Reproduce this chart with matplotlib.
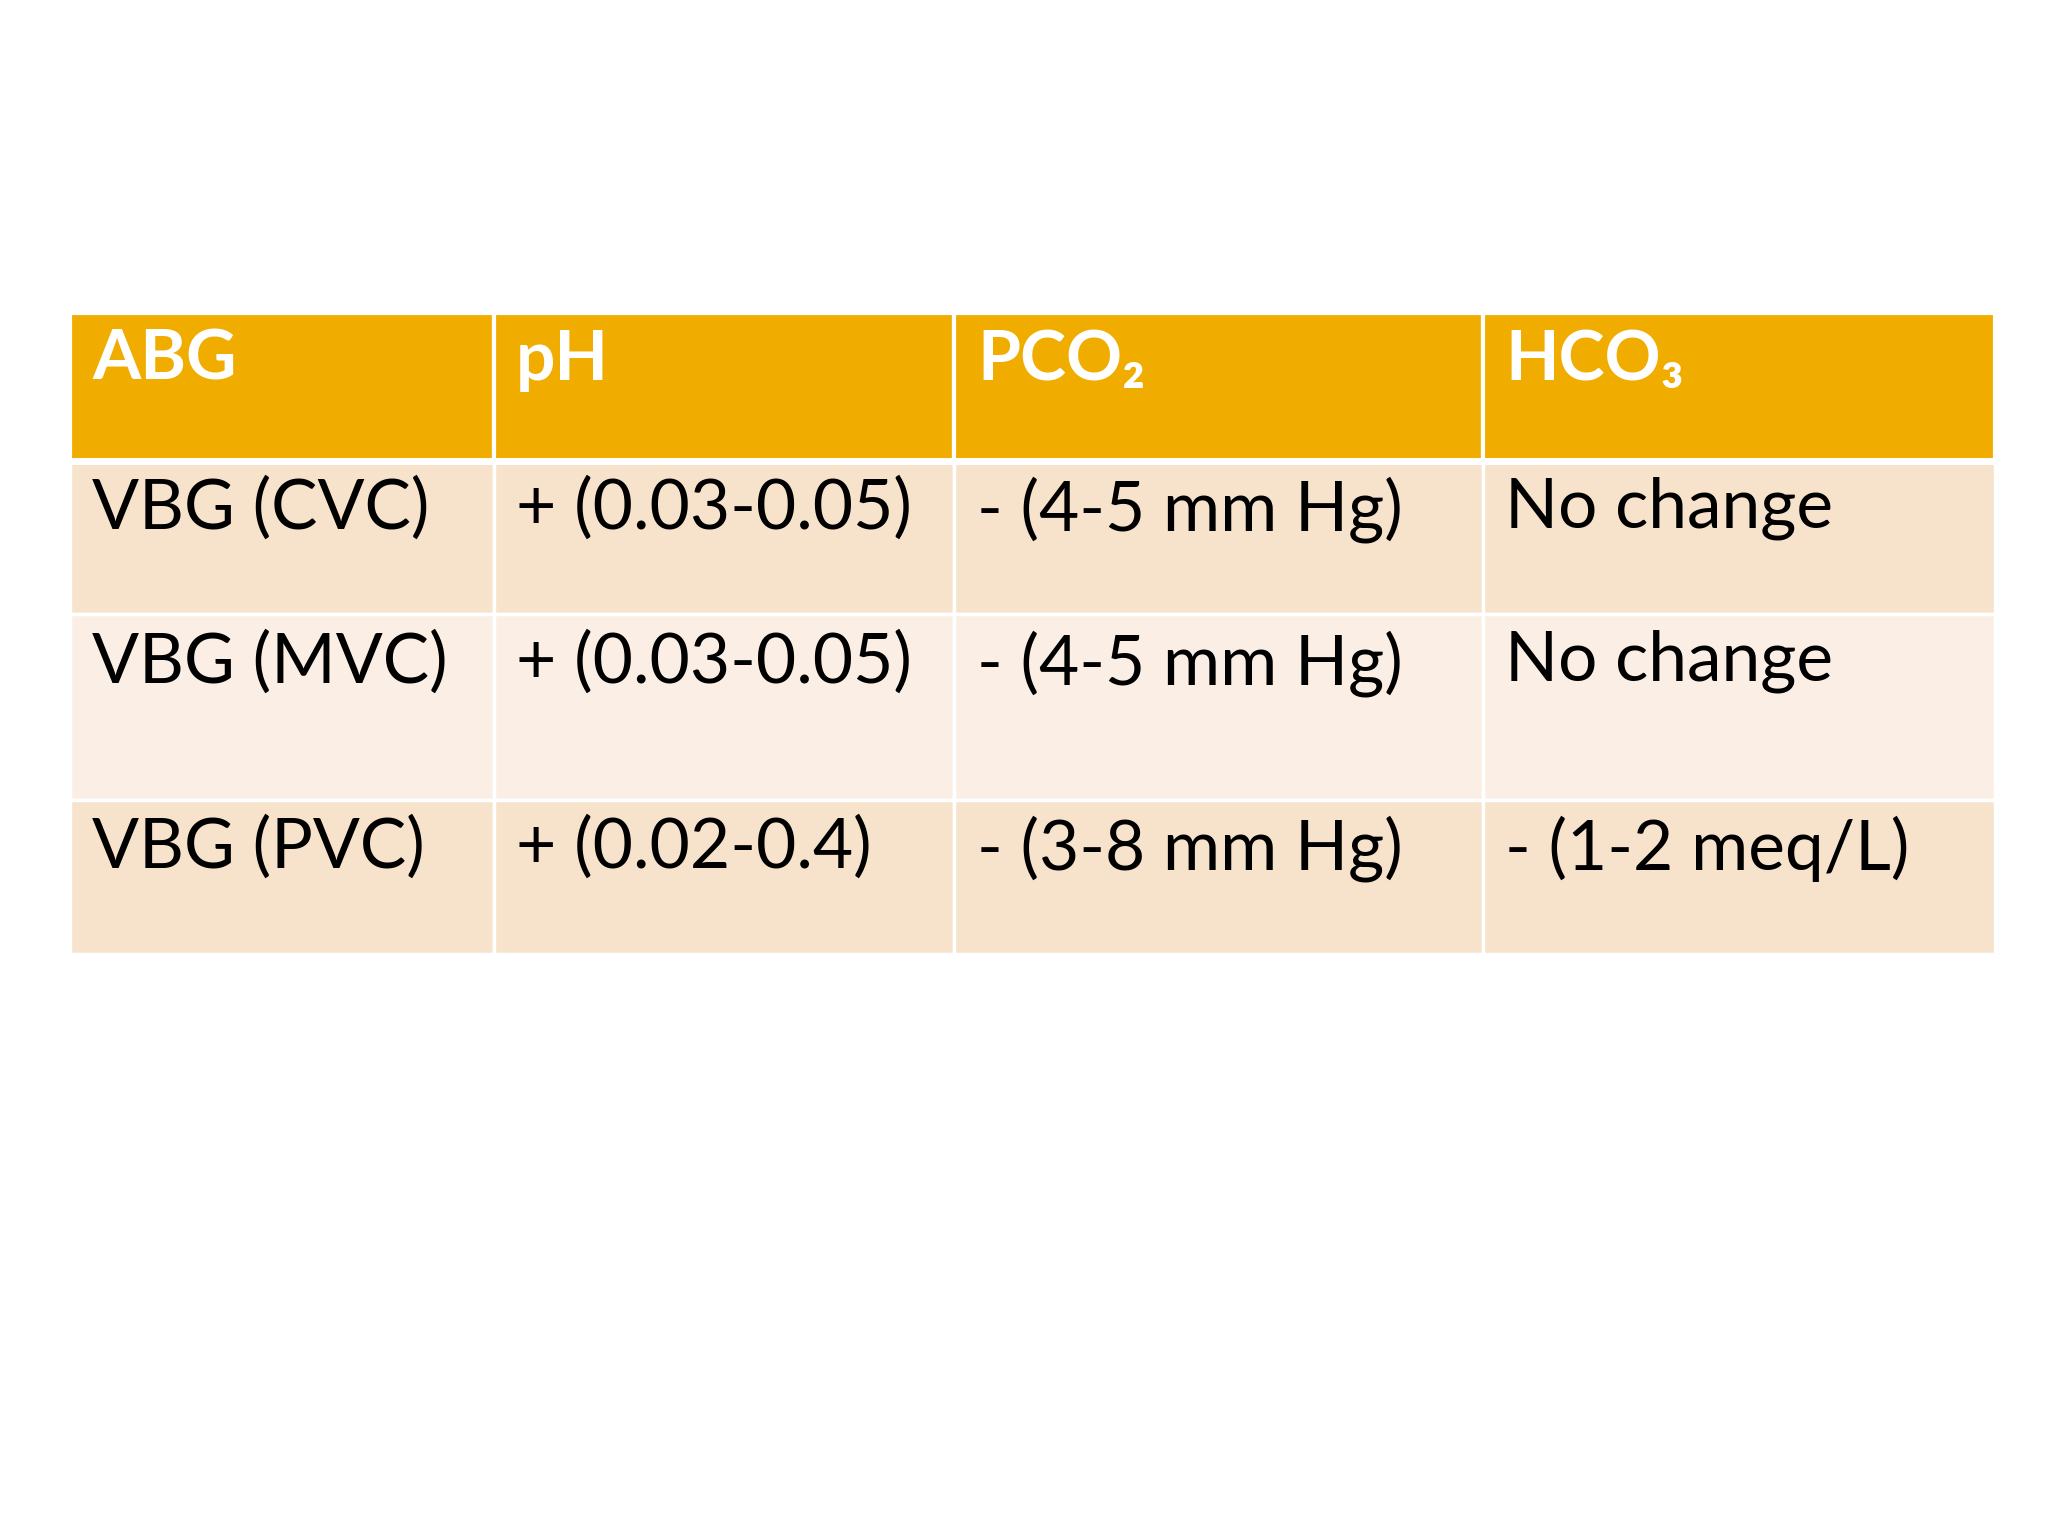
import matplotlib

matplotlib.use("Agg")

import matplotlib.pyplot as plt
from matplotlib.patches import Rectangle

header = ["ABG", "pH", "PCO₂", "HCO₃"]
rows = [
    ["VBG (CVC)", "+ (0.03-0.05)", "- (4-5 mm Hg)", "No change"],
    ["VBG (MVC)", "+ (0.03-0.05)", "- (4-5 mm Hg)", "No change"],
    ["VBG (PVC)", "+ (0.02-0.4)", "- (3-8 mm Hg)", "- (1-2 meq/L)"],
]

# layout in figure fractions (y measured from top)
col_edges = [0.034, 0.241, 0.466, 0.724, 0.974]
row_edges = [0.204, 0.300, 0.400, 0.521, 0.621]
row_colors = ["#F0AD00", "#F7E2CC", "#FBEFE5", "#F7E2CC"]

fig = plt.figure(figsize=(20.48, 15.36), dpi=100)
ax = fig.add_axes([0, 0, 1, 1])
ax.set_xlim(0, 1)
ax.set_ylim(1, 0)
ax.axis("off")

plt.rcParams["font.family"] = ["Lato", "DejaVu Sans"]

all_rows = [header] + rows
for r, cells in enumerate(all_rows):
    y0, y1 = row_edges[r], row_edges[r + 1]
    for c, txt in enumerate(cells):
        x0, x1 = col_edges[c], col_edges[c + 1]
        ax.add_patch(Rectangle((x0, y0), x1 - x0, y1 - y0, facecolor=row_colors[r],
                               edgecolor="white", linewidth=2.5 if r else 3))
        ax.text(x0 + 0.011, y0 + 0.01, txt, va="top", ha="left",
                fontsize=50, color="white" if r == 0 else "black",
                fontweight="bold" if r == 0 else "normal")

# thicker white line under header
ax.plot([col_edges[0], col_edges[-1]], [row_edges[1], row_edges[1]], color="white", lw=5)

fig.savefig("out.png", dpi=100, facecolor="white")
